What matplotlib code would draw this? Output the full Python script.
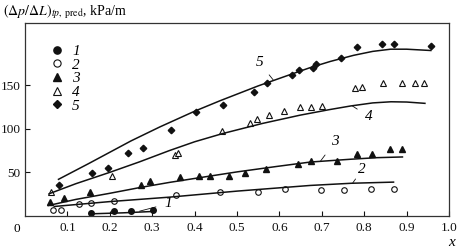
import matplotlib
matplotlib.use('Agg')
import matplotlib.pyplot as plt

plt.rcParams['font.family'] = ['Liberation Serif', 'DejaVu Serif']
plt.rcParams['mathtext.fontset'] = 'stix'

# experimental points (x, pressure gradient in kPa/m)
x1 = [0.156, 0.209, 0.250, 0.303]
y1 = [3.7, 5.5, 5.5, 7.0]

x2 = [0.067, 0.085, 0.128, 0.156, 0.209, 0.355, 0.460, 0.550, 0.614, 0.697, 0.752, 0.815, 0.870]
y2 = [7.0, 7.0, 13.2, 14.4, 16.7, 23.6, 27.4, 27.8, 30.4, 29.3, 29.3, 31.2, 31.2]

x3 = [0.058, 0.092, 0.154, 0.274, 0.294, 0.365, 0.411, 0.436, 0.482, 0.519, 0.568, 0.644,
      0.675, 0.736, 0.784, 0.818, 0.861, 0.890]
y3 = [15.9, 21.0, 28.0, 35.0, 40.0, 44.6, 45.4, 45.4, 45.4, 49.2, 54.2, 60.0,
      62.6, 63.4, 70.7, 70.7, 77.0, 77.0]

x4 = [0.062, 0.204, 0.353, 0.361, 0.464, 0.531, 0.547, 0.575, 0.610, 0.649, 0.675, 0.701,
      0.778, 0.795, 0.845, 0.890, 0.920, 0.940]
y4 = [27.0, 45.4, 69.5, 72.0, 97.0, 106.0, 111.0, 115.5, 120.0, 125.0, 125.0, 126.0,
      146.0, 148.0, 152.0, 152.0, 152.0, 152.0]

x5 = [0.081, 0.158, 0.195, 0.242, 0.278, 0.345, 0.403, 0.466, 0.540, 0.570, 0.630, 0.647,
      0.678, 0.686, 0.746, 0.782, 0.842, 0.869, 0.957]
y5 = [35.0, 49.7, 55.4, 72.0, 78.0, 99.0, 119.0, 127.0, 142.0, 152.0, 161.0, 167.0,
      169.5, 174.0, 180.6, 193.0, 197.0, 197.0, 195.0]

# predicted curves
cx1 = [0.156, 0.23, 0.302]
cy1 = [2.5, 3.6, 5.2]

cx2 = [0.069, 0.2, 0.341, 0.5, 0.673, 0.77, 0.869]
cy2 = [10.9, 16.5, 21.6, 28.5, 35.0, 37.5, 38.8]

cx3 = [0.055, 0.12, 0.2, 0.27, 0.341, 0.42, 0.5, 0.59, 0.673, 0.768, 0.83, 0.89]
cy3 = [12.0, 19.0, 26.0, 32.5, 38.5, 44.5, 50.5, 56.5, 61.8, 65.0, 66.8, 67.6]

cx4 = [0.057, 0.12, 0.2, 0.27, 0.341, 0.4, 0.466, 0.56, 0.649, 0.72, 0.768, 0.82, 0.863, 0.9, 0.943]
cy4 = [25.5, 37.0, 50.0, 62.0, 75.0, 85.0, 94.4, 106.0, 115.5, 122.0, 126.0, 129.5, 130.8, 130.5, 129.0]

cx5 = [0.079, 0.15, 0.2, 0.25, 0.318, 0.4, 0.46, 0.55, 0.62, 0.673, 0.72, 0.775, 0.82, 0.862, 0.9, 0.957]
cy5 = [42.0, 60.0, 73.0, 86.0, 102.0, 120.0, 132.0, 149.0, 161.0, 170.0, 177.0, 184.0, 188.5, 191.0, 191.0, 189.5]

labels = ['1', '2', '3', '4', '5']

fig = plt.figure(figsize=(4.57, 2.5), dpi=100)
ax = fig.add_axes([0.0547, 0.136, 0.928, 0.772])

k = '#111111'
ms = 4
h1, = ax.plot(x1, y1, 'o', color=k, ms=ms, ls='none')
h2, = ax.plot(x2, y2, 'o', mfc='white', mec=k, mew=0.8, ms=ms, ls='none')
h3, = ax.plot(x3, y3, '^', color=k, ms=ms, ls='none')
h4, = ax.plot(x4, y4, '^', mfc='white', mec=k, mew=0.8, ms=ms, ls='none')
h5, = ax.plot(x5, y5, 'D', color=k, ms=3.3, ls='none')

for cx, cy in [(cx1, cy1), (cx2, cy2), (cx3, cy3), (cx4, cy4), (cx5, cy5)]:
    ax.plot(cx, cy, '-', color=k, lw=1.1)

# curve labels with leader lines
notes = [('5', (0.585, 156), (0.552, 176)),
         ('4', (0.772, 126), (0.81, 114)),
         ('3', (0.697, 63), (0.731, 85)),
         ('2', (0.773, 38), (0.795, 53)),
         ('1', (0.27, 5.5), (0.337, 14))]
for t, xy, xyt in notes:
    ax.annotate(t, xy=xy, xytext=xyt, fontsize=11, style='italic', ha='center', va='center',
                arrowprops=dict(arrowstyle='-', color=k, lw=0.6, shrinkA=4, shrinkB=0))

leg = ax.legend([h1, h2, h3, h4, h5], labels, loc='upper left', bbox_to_anchor=(0.057, 0.89),
                frameon=False, borderpad=0, borderaxespad=0, handlelength=1.0,
                handletextpad=0.5, labelspacing=0.0, markerscale=1.3,
                prop={'style': 'italic', 'size': 11})

ax.set_xlim(0, 1.0)
ax.set_ylim(0, 221)
ax.set_xticks([0.1, 0.2, 0.3, 0.4, 0.5, 0.6, 0.7, 0.8, 0.9, 1.0])
ax.set_xticklabels(['0.1', '0.2', '0.3', '0.4', '0.5', '0.6', '0.7', '0.8', '0.9', '1.0'])
ax.set_yticks([50, 100, 150])
ax.tick_params(direction='in', length=3.5, width=0.8, labelsize=9.5, colors=k, pad=4)
ax.tick_params(axis='y', pad=3)
for s in ax.spines.values():
    s.set_linewidth(0.9)
    s.set_color('#333333')

ax.text(-0.02, -0.035, '0', transform=ax.transAxes, fontsize=9.5, ha='center', va='top')
fig.text(452 / 457, 1 - 242 / 250, 'x', fontsize=11, style='italic', ha='center', va='center')
fig.text(3 / 457, 1 - 12 / 250, r'$(\Delta p/\Delta L)_{tp,\ \mathrm{pred}}$, kPa/m',
         fontsize=10, ha='left', va='center')

plt.savefig('out.png', dpi=100)
